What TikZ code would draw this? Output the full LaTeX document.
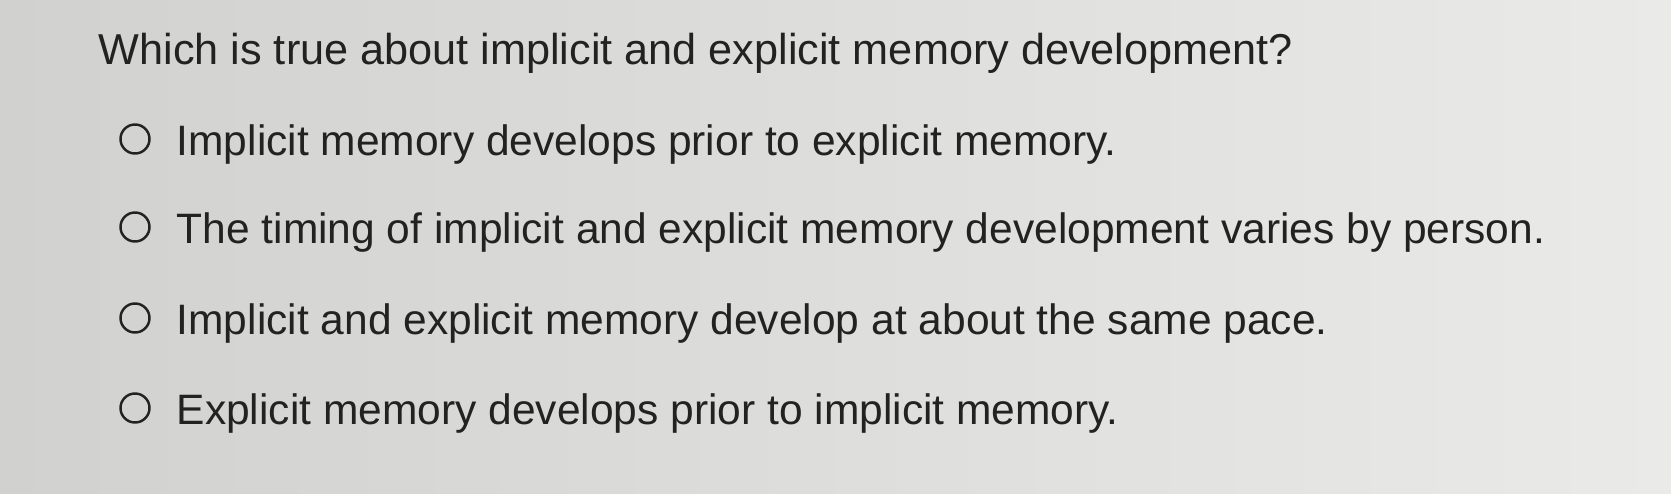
\documentclass[tikz,border=0pt]{standalone}
\usepackage{fontspec}
\setmainfont{Liberation Sans}
\definecolor{bg}{HTML}{DCDCDA}
\definecolor{ink}{HTML}{222222}
\begin{document}
\begin{tikzpicture}[x=1cm,y=1cm,
  txt/.style={anchor=base west,inner sep=0pt,text=ink,font=\fontsize{12.1}{14}\selectfont},
  radio/.style={circle,draw=ink,line width=0.7pt,minimum size=0.29cm,inner sep=0pt}]
\useasboundingbox (0,0) rectangle (16.71,4.93);
\shade[left color=bg!95!black, right color=bg!60!white] (0,0) rectangle (16.71,4.93);
\node[txt,font=\fontsize{12.3}{14}\selectfont] (q) at (0.98,4.29) {Which is true about implicit and explicit memory development?};
\node[radio] (r1) at (1.35,3.54) {};
\node[txt] (a1) at (1.76,3.38) {Implicit memory develops prior to explicit memory.};
\node[radio] (r2) at (1.35,2.66) {};
\node[txt] (a2) at (1.76,2.50) {The timing of implicit and explicit memory development varies by person.};
\node[radio] (r3) at (1.35,1.75) {};
\node[txt] (a3) at (1.76,1.59) {Implicit and explicit memory develop at about the same pace.};
\node[radio] (r4) at (1.35,0.85) {};
\node[txt] (a4) at (1.76,0.69) {Explicit memory develops prior to implicit memory.};
\end{tikzpicture}
\end{document}
